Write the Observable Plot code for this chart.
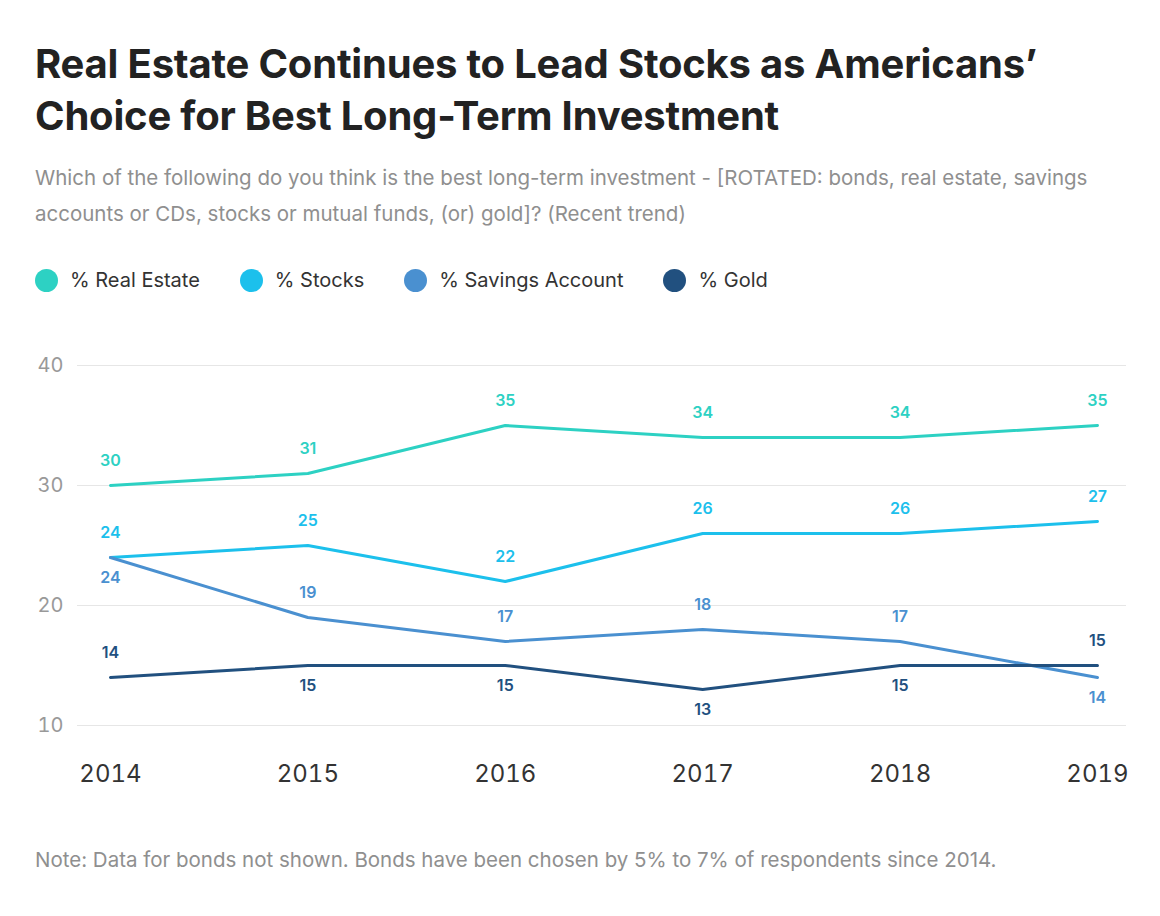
<!DOCTYPE html>
<html>
<head>
<meta charset="utf-8">
<script src="https://cdn.jsdelivr.net/npm/d3@7"></script>
<script src="https://cdn.jsdelivr.net/npm/@observablehq/plot@0.6"></script>
<style>
  html, body { margin: 0; padding: 0; background: #fff; }
  body { width: 1160px; height: 916px; position: relative; overflow: hidden; font-family: Inter, "Noto Sans", sans-serif; }
  #title { position: absolute; left: 35px; top: 38px; font-size: 40px; font-weight: 700; color: #222; line-height: 52px; letter-spacing: -0.2px; }
  #subtitle { position: absolute; left: 35px; top: 160px; font-size: 20.5px; color: #8f8f8f; line-height: 36px; width: 1110px; }
  #legend { position: absolute; left: 35px; top: 268px; display: flex; align-items: center; font-size: 20px; color: #333; }
  .item { display: flex; align-items: center; margin-right: 40px; }
  .sw { width: 23px; height: 23px; border-radius: 50%; margin-right: 12px; }
  #chart { position: absolute; left: 0; top: 330px; }
  #note { position: absolute; left: 35px; top: 847px; font-size: 20.5px; color: #8f8f8f; }
</style>
</head>
<body>
<div id="title">Real Estate Continues to Lead Stocks as Americans’<br>Choice for Best Long-Term Investment</div>
<div id="subtitle">Which of the following do you think is the best long-term investment - [ROTATED: bonds, real estate, savings accounts or CDs, stocks or mutual funds, (or) gold]? (Recent trend)</div>
<div id="legend"></div>
<div id="chart"></div>
<div id="note">Note: Data for bonds not shown. Bonds have been chosen by 5% to 7% of respondents since 2014.</div>
<script>
const years = [2014, 2015, 2016, 2017, 2018, 2019];
const seriesNames = ["% Real Estate", "% Stocks", "% Savings Account", "% Gold"];
const realEstate = [30, 31, 35, 34, 34, 35];
const stocks = [24, 25, 22, 26, 26, 27];
const savings = [24, 19, 17, 18, 17, 14];
const gold = [14, 15, 15, 13, 15, 15];
const yTicks = [10, 20, 30, 40];
const colors = ["#2dd1c3", "#1cc0ec", "#4a90d0", "#21507f"];

const values = [realEstate, stocks, savings, gold];
// label side per series (1 = above, -1 = below), per year
const sides = [
  years.map(() => 1),
  years.map(() => 1),
  years.map((y, i) => (i === 0 || i === years.length - 1) ? -1 : 1),
  years.map((y, i) => (i === 0 || i === years.length - 1) ? 1 : -1)
];
const data = [];
seriesNames.forEach((s, k) => values[k].forEach((v, i) => data.push({series: s, year: years[i], value: v, side: sides[k][i]})));

const legend = document.getElementById("legend");
seriesNames.forEach((s, k) => {
  const it = document.createElement("div");
  it.className = "item";
  it.innerHTML = `<span class="sw" style="background:${colors[k]}"></span><span>${s}</span>`;
  legend.appendChild(it);
});

const color = {domain: seriesNames, range: colors};
const chart = Plot.plot({
  width: 1160,
  height: 480,
  marginLeft: 77,
  marginRight: 34,
  marginTop: 35,
  marginBottom: 85,
  x: {domain: [2013.833, 2019.147], axis: null},
  y: {domain: [10, 40], axis: null},
  color,
  style: {fontFamily: "Inter, 'Noto Sans', sans-serif", background: "transparent"},
  marks: [
    Plot.gridY(yTicks, {stroke: "#e6e6e6", strokeOpacity: 1, strokeWidth: 1}),
    Plot.axisY({ticks: yTicks, label: null, tickSize: 0, tickPadding: 0, textAnchor: "start", dx: -40, fontSize: 20, fill: "#999"}),
    Plot.axisX({ticks: years, label: null, tickFormat: d => String(d), tickSize: 0, tickPadding: 39, fontSize: 24, fill: "#333"}),
    Plot.line(data, {x: "year", y: "value", z: "series", stroke: "series", strokeWidth: 3, curve: "linear"}),
    Plot.text(data.filter(d => d.side > 0), {x: "year", y: "value", text: d => String(d.value), fill: "series", dy: -25, fontSize: 16, fontWeight: 600}),
    Plot.text(data.filter(d => d.side < 0), {x: "year", y: "value", text: d => String(d.value), fill: "series", dy: 20, fontSize: 16, fontWeight: 600})
  ]
});
document.getElementById("chart").appendChild(chart);
</script>
</body>
</html>
